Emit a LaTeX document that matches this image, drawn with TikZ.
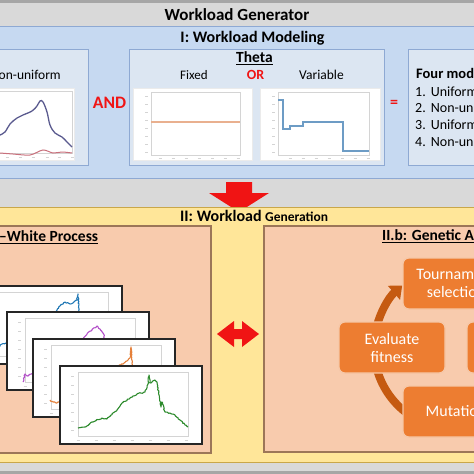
\documentclass[tikz,border=0pt]{standalone}
\usepackage{fontspec}
\setmainfont{Carlito}
\usetikzlibrary{arrows.meta,decorations.pathmorphing}

\definecolor{bggray}{HTML}{D9D9D9}
\definecolor{edgegray}{HTML}{A6A6A6}
\definecolor{panelblue}{HTML}{C6D9F1}
\definecolor{boxblue}{HTML}{DCE6F2}
\definecolor{lineblue}{HTML}{8EA9D3}
\definecolor{panelyellow}{HTML}{FFE699}
\definecolor{lineyellow}{HTML}{C9A74A}
\definecolor{boxsalmon}{HTML}{F8CBAD}
\definecolor{linesalmon}{HTML}{9C7658}
\definecolor{gaorange}{HTML}{ED7D31}
\definecolor{gaedge}{HTML}{F6C7A6}
\definecolor{gaarc}{HTML}{C55A11}
\definecolor{hotred}{HTML}{F01414}
\definecolor{axisgray}{HTML}{D4D4D4}
\definecolor{slateline}{HTML}{5B5B8F}
\definecolor{roseline}{HTML}{C9707C}
\definecolor{fixline}{HTML}{E9B08F}
\definecolor{stepline}{HTML}{6D9CC5}
\definecolor{mplblue}{HTML}{1F77B4}
\definecolor{mplpurple}{HTML}{B34FC9}
\definecolor{mplorange}{HTML}{E5803A}
\definecolor{mplgreen}{HTML}{2C8A2C}

\tikzset{
  innerbox/.style={fill=boxblue, draw=lineblue, line width=1pt},
  salmonbox/.style={fill=boxsalmon, draw=linesalmon, line width=1.2pt},
  plotbg/.style={fill=white, draw=white!92!black, line width=0.4pt},
  card/.style={fill=white, draw=black!85, line width=1.2pt},
  axisframe/.style={draw=axisgray, line width=0.5pt},
  tickmark/.style={draw=axisgray, line width=0.9pt},
  gabox/.style={rounded corners=6pt, fill=gaorange, draw=gaedge, line width=1.2pt,
    text=white, minimum width=106pt, minimum height=51pt, align=center,
    inner sep=0pt, font=\fontsize{16}{18}\selectfont},
  gaflow/.style={draw=gaarc, line width=8pt},
  hdr/.style={inner sep=0pt, font=\bfseries\fontsize{16}{19}\selectfont},
  lbl/.style={inner sep=0pt, font=\fontsize{13.5}{16}\selectfont},
  redword/.style={inner sep=0pt, text=hotred, font=\bfseries\fontsize{17.5}{20}\selectfont},
  listitem/.style={inner sep=0pt, anchor=base west, font=\fontsize{14}{17}\selectfont},
}

\newcommand{\trendcard}[3]{
  \begin{scope}[shift={#1}]
    \draw[card] (0,0) rectangle (142,78);
    \draw[axisframe] (18,6) rectangle (128,70);
    \foreach \ty in {10,19,...,66} \draw[tickmark] (11,\ty) -- (14,\ty);
    \foreach \tx in {18,36,...,128} \draw[tickmark] (\tx-1.5,74) -- (\tx+1.5,74);
    \draw[#2, line width=1.1pt, line join=round, decorate,
      decoration={random steps,segment length=1.3pt,amplitude=0.6pt}] plot coordinates {#3};
  \end{scope}}

\begin{document}
\begin{tikzpicture}[x=1pt,y=-1pt]
\useasboundingbox (0,0) rectangle (474,474);
\clip (0,0) rectangle (474,474);
\fill[bggray] (0,0) rectangle (474,474);
\fill[edgegray] (0,0) rectangle (474,3);
\fill[edgegray] (0,471) rectangle (474,474);
\node[hdr, font=\bfseries\fontsize{17}{20}\selectfont] (title) at (237,15) {Workload Generator};

% I: modeling
\draw[fill=panelblue, draw=lineblue, line width=1pt] (-5,26) rectangle (480,178);
\node[hdr] (modhdr) at (252.5,38) {I: Workload Modeling};
\draw[innerbox] (-5,49) rectangle (88,165);
\draw[innerbox] (129,49) rectangle (384,165);
\draw[innerbox] (408,49) rectangle (480,165);

\node[lbl, anchor=east] (nonunif) at (61,75) {on-uniform};
\draw[plotbg] (-5,88) rectangle (74,160);
\draw[axisframe] (-5,91) rectangle (72,153);
\foreach \tx in {7,20,33,47,59,72} \draw[tickmark] (\tx-1.5,157) -- (\tx+1.5,157);
\draw[slateline, line width=1.3pt] plot[smooth, tension=0.6] coordinates {(0,135) (5,132) (10,124) (17,118) (23,115) (32,111) (37,106) (40,101) (43,102) (47,112) (50,125) (55,133) (62,137) (67,142) (72,147)};
\draw[roseline, line width=1pt] plot[smooth] coordinates {(0,153) (13,154) (30,155) (43,150) (53,153) (62,152) (72,153)};

\node[redword] (andlbl) at (109.5,103) {AND};

\node[hdr, font=\bfseries\fontsize{15.5}{18}\selectfont] (theta) at (254.5,58) {\underline{Theta}};
\node[lbl, font=\fontsize{13}{16}\selectfont] (fixedlbl) at (194,75) {Fixed};
\node[redword, font=\bfseries\fontsize{14}{17}\selectfont] (orlbl) at (255.5,75) {OR};
\node[lbl] (varlbl) at (321.5,75) {Variable};

\draw[plotbg] (133,88) rectangle (252,160);
\draw[axisframe] (151,92) rectangle (240,155);
\foreach \ty in {96,104,...,152} \draw[tickmark] (145,\ty) -- (148,\ty);
\foreach \tx in {160,173,...,240} \draw[tickmark] (\tx-1.5,158) -- (\tx+1.5,158);
\draw[fixline, line width=1.6pt] (151,122) -- (240,122);

\draw[plotbg] (260,88) rectangle (380,160);
\draw[axisframe] (278,92) rectangle (369,155);
\foreach \ty in {96,104,...,152} \draw[tickmark] (272,\ty) -- (275,\ty);
\foreach \tx in {290,303,...,369} \draw[tickmark] (\tx-1.5,158) -- (\tx+1.5,158);
\draw[stepline, line width=1.4pt] (278,100) -- (283,100) -- (283,129) -- (290,129) -- (290,126) -- (303,126) -- (303,122) -- (343,122) -- (343,151) -- (369,151);

\node[redword, font=\bfseries\fontsize{16}{19}\selectfont] (eqlbl) at (394,104) {=};

\node[hdr, anchor=base west, font=\bfseries\fontsize{14.5}{17}\selectfont] (fourhdr) at (416,78) {Four mod};
\node[listitem] (item1) at (415,96) {1.\hspace{5pt}Uniform};
\node[listitem] (item2) at (415,112.5) {2.\hspace{5pt}Non-un};
\node[listitem] (item3) at (415,129.5) {3.\hspace{5pt}Uniform};
\node[listitem] (item4) at (415,146.5) {4.\hspace{5pt}Non-un};

% red arrow down
\fill[hotred] (226,182) -- (252,182) -- (252,193) -- (269,193) -- (239,212) -- (209,193) -- (226,193) -- cycle;

% II: generation
\draw[fill=panelyellow, draw=lineyellow, line width=0.8pt] (-5,207) rectangle (480,462);
\node[hdr, anchor=west, font=\bfseries] (genhdr) at (180,216) {{\fontsize{16}{19}\selectfont II: Workload }{\fontsize{13.5}{16}\selectfont Generation}};
\draw[salmonbox] (-5,226) rectangle (211,453);
\draw[salmonbox] (264,226) rectangle (480,452);
\node[hdr, anchor=west, font=\bfseries\fontsize{15.5}{18}\selectfont] (hwhdr) at (-1,237) {\underline{–White Process}};
\node[hdr, anchor=west, font=\bfseries\fontsize{15.5}{18}\selectfont] (gahdr) at (382,236) {\underline{II.b: Genetic A}};

\trendcard{(-20,286)}{mplblue}{(18,62) (22,58) (26,57) (35,52) (45,47) (55,40) (65,34) (75,26) (80,20) (85,16) (90,18) (93,17) (97,14) (98,8) (99,26) (103,42) (110,48) (120,54) (128,58)}
\trendcard{(7,312)}{mplpurple}{(16,70) (18,62) (21,64) (26,61) (35,56) (45,50) (55,42) (65,35) (75,28) (80,22) (85,18) (90,14) (93,17) (96,21) (98,28) (102,40) (110,48) (120,55) (128,60)}
\trendcard{(33,339)}{mplorange}{(17,61) (20,63) (24,64) (27,62) (35,57) (45,52) (55,46) (65,40) (75,33) (84,27) (90,25) (95,21) (97,19) (98,8) (99,24) (102,40) (106,48) (115,52) (128,60)}
\trendcard{(60,366)}{mplgreen}{(18,62) (25,61) (32,56) (42,52) (47,53) (53,47) (57,44) (62,37) (70,32) (77,28) (85,26) (88,18) (89,9) (90,17) (95,14) (97,16) (99,29) (101,41) (102,36) (105,46) (110,47) (115,49) (120,54) (125,59) (128,61)}

% red double arrow
\fill[hotred] (217,334) -- (234,321) -- (234,329) -- (242,329) -- (242,321) -- (259,334) -- (242,347) -- (242,339) -- (234,339) -- (234,347) -- cycle;

% genetic cycle
\coordinate (cyc) at (456,347.5);
\draw[gaflow, -{Triangle[width=18pt,length=11pt]}] ([shift={(cyc)}]192:82) arc[start angle=192, end angle=229, radius=82];
\draw[gaflow] ([shift={(cyc)}]128:82) arc[start angle=128, end angle=166, radius=82];
\node[gabox] (tour) at (456,283.5) {Tournament\\selection};
\node[gabox] (evalfit) at (392,347.5) {Evaluate\\fitness};
\node[gabox] (rbox) at (520,347.5) {};
\node[gabox] (mutat) at (456,411.5) {Mutation};
\end{tikzpicture}
\end{document}
